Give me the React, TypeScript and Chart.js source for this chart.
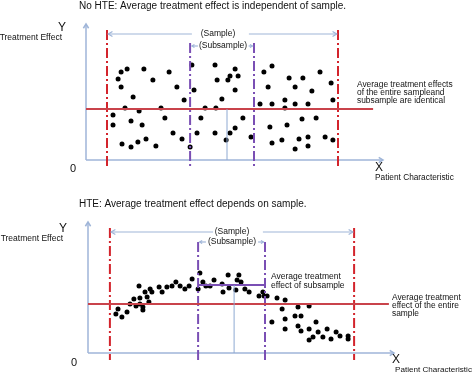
import React, { useEffect, useRef } from 'react';
import { Chart, registerables } from 'chart.js';
Chart.register(...registerables);

// ---------- Top panel: No HTE ----------
const topTitle = 'No HTE: Average treatment effect is independent of sample.';
const topPoints: number[][] = [
  [11.7, 44], [13.7, 45.5], [10.7, 40.5], [11.7, 36.5], [15.7, 31.5], [13, 26], [9, 22.5], [9, 17.5],
  [15, 19.5], [17.7, 24.5], [18.7, 17.5], [19.3, 45.5], [22.3, 40], [27.7, 44], [30.3, 36.5], [32.7, 30],
  [25, 26], [26.3, 21], [29, 13.5], [32, 10.5], [34.7, 6.5], [23.3, 7], [20, 10.5], [17.3, 9], [15, 6.5],
  [12, 8], [35.3, 47.5], [36, 35], [38.3, 21], [37, 13.5], [39.7, 26], [43, 47.5], [43.7, 40], [45.3, 30.5],
  [43.3, 26], [43, 13.5], [46.7, 10], [48, 13.5], [49.7, 16], [47.3, 40], [48, 42], [49.7, 45.5], [50.7, 42],
  [49.7, 35], [52.3, 21], [55, 11.5], [59.3, 44], [62, 47], [60.7, 36.5], [58, 28], [62, 28], [66.3, 30],
  [66.3, 26], [69.7, 28], [74, 28], [67.7, 41], [72.3, 41], [69.7, 36.5], [75.3, 34.5], [78, 44], [81.7, 38.5],
  [82.3, 30], [72, 20.5], [76.7, 21], [61.3, 16.5], [67, 17.5], [62, 8.5], [65.3, 10], [71, 10.5], [74, 11.5],
  [69.7, 5.5], [74, 7], [79.7, 11.5], [82.3, 10],
];
const topSampleBounds = [7, 84];
const topSubsampleBounds = [34.7, 56];
const topSampleMean = 25.5;
const topSubsampleMean = 25.5;
const topSubsampleMid = 47;
const topNotes = ['Average treatment effects', 'of the entire sampleand', 'subsample are identical'];

// ---------- Bottom panel: HTE ----------
const bottomTitle = 'HTE: Average treatment effect depends on sample.';
const bottomPoints: number[][] = [
  [9.3, 19.5], [10, 22], [11.3, 18], [13, 20.5], [14, 24.5], [15.3, 27], [16, 23.5], [17, 33.5], [17.3, 27.5],
  [17.3, 24.5], [18.3, 23], [18.3, 21.5], [19, 30.5], [19.7, 28], [20.3, 25.5], [20.7, 32], [21.3, 30.5],
  [23.7, 33], [24.7, 30.5], [26.3, 33], [28, 33.5], [29.3, 35.5], [30.7, 33.5], [32.3, 32], [33.7, 33.5],
  [34.7, 37], [36.7, 32], [37.3, 40], [38.3, 35.5], [39.3, 33.5], [40.7, 33.5], [42, 36.5], [44.7, 34.5],
  [45, 30.5], [46.7, 39], [47, 32.5], [49.3, 31.5], [49.7, 36.5], [50.3, 39], [51, 35.5], [52.3, 32],
  [53.7, 30.5], [57, 28.5], [58.3, 30.5], [58.7, 28.5], [59.7, 28.5], [63, 27.5], [65.7, 26.5], [64.7, 22],
  [70, 23], [73.7, 23.5], [61.3, 15.5], [65.7, 17], [69, 18.5], [71, 18.5], [76, 15.5], [65.7, 12], [70, 13.5],
  [71, 11], [73.7, 12], [73.7, 6.5], [75, 8], [76.7, 10.5], [78.3, 8], [79.7, 12], [81, 7], [82.7, 10.5],
  [84, 8.5], [86.7, 8.5], [86.7, 7],
];
const bottomSampleBounds = [7.3, 88.7];
const bottomSubsampleBounds = [36.7, 59];
const bottomSampleMean = 24.5;
const bottomSubsampleMean = 34;
const bottomSubsampleMid = 48.7;
const bottomSubNotes = ['Average treatment', 'effect of subsample'];
const bottomNotes = ['Average treatment', 'effect of the entire', 'sample'];

const FONT = '"Liberation Sans", Arial, sans-serif';
const RED = '#d3242c';
const MEAN_RED = '#c9434b';
const PURPLE = '#7a4fb4';
const AXIS = '#9fb5d8';
const MIDBLUE = '#8ea9d2';

type Txt = { t: string; x: number; y: number; s: number; a: CanvasTextAlign };
type Panel = {
  points: number[][];
  xMax: number;
  yMax: number;
  padding: { left: number; right: number; top: number; bottom: number };
  sample: number[];
  sub: number[];
  lineTop: number;
  subTop: number;
  lineBottom: number;
  sampleMean: number;
  meanEnd: number;
  subMean: number;
  mid: number;
  arrowY: number;
  arrowStarts: number[];
  subArrowY: number;
  subArrows: number[][];
  texts: Txt[];
};

const topPanel: Panel = {
  points: topPoints,
  xMax: 99,
  yMax: 68,
  padding: { left: 86, right: 91, top: 24, bottom: 28 },
  sample: topSampleBounds,
  sub: topSubsampleBounds,
  lineTop: 65,
  subTop: 58.5,
  lineBottom: -3,
  sampleMean: topSampleMean,
  meanEnd: 95.7,
  subMean: topSubsampleMean,
  mid: topSubsampleMid,
  arrowY: 63,
  arrowStarts: [35.3, 54.3],
  subArrowY: 57,
  subArrows: [[37.3, 35.3], [54.2, 55.5]],
  texts: [
    { t: topTitle, x: 79, y: 6, s: 10, a: 'left' },
    { t: 'Y', x: 62, y: 28, s: 12, a: 'center' },
    { t: 'Treatment Effect', x: 62, y: 38, s: 8.5, a: 'right' },
    { t: '0', x: 73, y: 169, s: 11, a: 'center' },
    { t: 'X', x: 379, y: 168, s: 12, a: 'center' },
    { t: 'Patient Characteristic', x: 375, y: 178, s: 8.3, a: 'left' },
    { t: '(Sample)', x: 218, y: 34, s: 8.5, a: 'center' },
    { t: '(Subsample)', x: 223, y: 46, s: 8.5, a: 'center' },
    ...topNotes.map((t, i) => ({ t, x: 357, y: 85 + i * 8, s: 8.4, a: 'left' as CanvasTextAlign })),
  ],
};

const bottomPanel: Panel = {
  points: bottomPoints,
  xMax: 102,
  yMax: 65.5,
  padding: { left: 88, right: 80, top: 34, bottom: 22 },
  sample: bottomSampleBounds,
  sub: bottomSubsampleBounds,
  lineTop: 62.5,
  subTop: 55.5,
  lineBottom: -3.5,
  sampleMean: bottomSampleMean,
  meanEnd: 100.3,
  subMean: bottomSubsampleMean,
  mid: bottomSubsampleMid,
  arrowY: 60.5,
  arrowStarts: [41.7, 58.3],
  subArrowY: 55.5,
  subArrows: [[39.3, 37.2], [56.7, 58.5]],
  texts: [
    { t: bottomTitle, x: 79, y: 16, s: 10, a: 'left' },
    { t: 'Y', x: 63, y: 41, s: 12, a: 'center' },
    { t: 'Treatment Effect', x: 63, y: 51, s: 8.5, a: 'right' },
    { t: '0', x: 74, y: 175, s: 11, a: 'center' },
    { t: 'X', x: 396, y: 172, s: 12, a: 'center' },
    { t: 'Patient Characteristic', x: 395, y: 182, s: 8.1, a: 'left' },
    { t: '(Sample)', x: 232, y: 44, s: 8.5, a: 'center' },
    { t: '(Subsample)', x: 232, y: 54, s: 8.5, a: 'center' },
    ...bottomSubNotes.map((t, i) => ({ t, x: 271, y: 89 + i * 9, s: 8.5, a: 'left' as CanvasTextAlign })),
    ...bottomNotes.map((t, i) => ({ t, x: 392, y: 110 + i * 8, s: 8.4, a: 'left' as CanvasTextAlign })),
  ],
};

function arrow(ctx: CanvasRenderingContext2D, x1: number, y1: number, x2: number, y2: number, size: number) {
  ctx.beginPath();
  ctx.moveTo(x1, y1);
  ctx.lineTo(x2, y2);
  ctx.stroke();
  const a = Math.atan2(y2 - y1, x2 - x1);
  ctx.beginPath();
  ctx.moveTo(x2 - size * Math.cos(a - 0.55), y2 - size * Math.sin(a - 0.55));
  ctx.lineTo(x2, y2);
  ctx.lineTo(x2 - size * Math.cos(a + 0.55), y2 - size * Math.sin(a + 0.55));
  ctx.stroke();
}

function makeOverlay(p: Panel) {
  return {
    id: 'overlay',
    beforeDatasetsDraw(chart: any) {
      const ctx: CanvasRenderingContext2D = chart.ctx;
      const xs = chart.scales.x;
      const ys = chart.scales.y;
      ctx.save();
      ctx.strokeStyle = AXIS;
      ctx.lineWidth = 1.5;
      arrow(ctx, xs.getPixelForValue(0), ys.getPixelForValue(0), xs.getPixelForValue(0), ys.getPixelForValue(p.yMax), 5);
      arrow(ctx, xs.getPixelForValue(0), ys.getPixelForValue(0), xs.getPixelForValue(p.xMax), ys.getPixelForValue(0), 5);
      ctx.restore();
    },
    afterDatasetsDraw(chart: any) {
      const ctx: CanvasRenderingContext2D = chart.ctx;
      const xs = chart.scales.x;
      const ys = chart.scales.y;
      ctx.save();
      ctx.strokeStyle = AXIS;
      ctx.lineWidth = 1.2;
      const ay = ys.getPixelForValue(p.arrowY);
      arrow(ctx, xs.getPixelForValue(p.arrowStarts[0]), ay, xs.getPixelForValue(p.sample[0] + 0.4), ay, 5);
      arrow(ctx, xs.getPixelForValue(p.arrowStarts[1]), ay, xs.getPixelForValue(p.sample[1] - 0.4), ay, 5);
      const sy = ys.getPixelForValue(p.subArrowY);
      p.subArrows.forEach(([a, b]) => arrow(ctx, xs.getPixelForValue(a), sy, xs.getPixelForValue(b), sy, 3));
      ctx.fillStyle = '#111';
      ctx.textBaseline = 'middle';
      p.texts.forEach((t) => {
        ctx.font = `${t.s}px ${FONT}`;
        ctx.textAlign = t.a;
        ctx.fillText(t.t, t.x, t.y);
      });
      ctx.restore();
    },
  };
}

function seg(pts: number[][], color: string, width: number, dash: number[] = []) {
  return {
    data: pts.map(([x, y]) => ({ x, y })),
    showLine: true,
    borderColor: color,
    borderWidth: width,
    borderDash: dash,
    pointRadius: 0,
    fill: false,
    clip: false as any,
    tension: 0,
  };
}

function buildDatasets(p: Panel) {
  const dd = [10, 3, 2, 3];
  const sets: any[] = [];
  sets.push(seg([[p.mid, 0], [p.mid, p.subMean]], MIDBLUE, 1));
  sets.push(seg([[0, p.sampleMean], [p.meanEnd, p.sampleMean]], MEAN_RED, 1.8));
  sets.push(seg([[p.sub[0], p.subMean], [p.sub[1], p.subMean]], PURPLE, 1.8));
  p.sample.forEach((x) => sets.push(seg([[x, p.lineTop], [x, p.lineBottom]], RED, 2, dd)));
  p.sub.forEach((x) => sets.push(seg([[x, p.subTop], [x, p.lineBottom]], PURPLE, 2, dd)));
  sets.push({
    data: p.points.map(([x, y]) => ({ x, y })),
    pointRadius: 2.5,
    pointBackgroundColor: '#000',
    pointBorderWidth: 0,
    showLine: false,
    clip: false as any,
  });
  return sets;
}

function PanelChart({ panel, height }: { panel: Panel; height: number }) {
  const ref = useRef<HTMLCanvasElement | null>(null);
  useEffect(() => {
    if (!ref.current) return;
    const chart = new Chart(ref.current, {
      type: 'scatter',
      data: { datasets: buildDatasets(panel) },
      options: {
        animation: false,
        responsive: true,
        maintainAspectRatio: false,
        events: [],
        layout: { padding: panel.padding },
        plugins: { legend: { display: false }, tooltip: { enabled: false }, title: { display: false } },
        scales: {
          x: { type: 'linear', min: 0, max: panel.xMax, display: false },
          y: { type: 'linear', min: 0, max: panel.yMax, display: false },
        },
      },
      plugins: [makeOverlay(panel)],
    } as any);
    return () => chart.destroy();
  }, [panel]);
  return (
    <div style={{ position: 'relative', width: 474, height }}>
      <canvas ref={ref} />
    </div>
  );
}

export default function App() {
  return (
    <div style={{ position: 'absolute', left: 0, top: 0, width: 474, height: 375, background: '#fff' }}>
      <PanelChart panel={topPanel} height={188} />
      <PanelChart panel={bottomPanel} height={187} />
    </div>
  );
}
